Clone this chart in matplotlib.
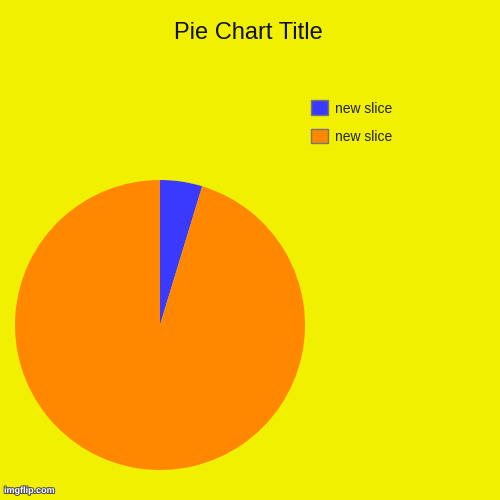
import matplotlib.pyplot as plt
import matplotlib.patches as mpatches
import matplotlib.patheffects as pe

plt.rcParams['font.family'] = ['Liberation Sans', 'DejaVu Sans']

labels = ["new slice", "new slice"]
values = [4.7, 95.3]
colors = ["#3a3aff", "#ff8800"]
bg = "#f0f000"

fig = plt.figure(figsize=(5, 5), dpi=100)
fig.patch.set_facecolor(bg)

# pie centred at (160, 325) px, radius 145 px
ax = fig.add_axes([15 / 500, 30 / 500, 290 / 500, 290 / 500])
ax.set_facecolor(bg)
ax.pie(values, colors=colors, startangle=90, counterclock=False,
       radius=1, wedgeprops={'linewidth': 0})
ax.set_xlim(-1, 1)
ax.set_ylim(-1, 1)
ax.set_aspect('equal')
ax.axis('off')

fig.text(0.497, 1 - 33 / 500, "Pie Chart Title", ha='center', va='center',
         fontsize=17, color='#111111')

handles = [mpatches.Patch(facecolor=c, edgecolor='#777777', linewidth=1)
           for c in colors]
fig.legend(handles, labels, loc='upper left',
           bbox_to_anchor=(298 / 500, 1 - 88 / 500), frameon=False,
           fontsize=10, handlelength=1.25, handleheight=1.25,
           handletextpad=0.5, labelspacing=0.95, labelcolor='#222222')

fig.text(4 / 500, 7 / 500, "imgflip.com", fontsize=6.5, color='white',
         fontweight='bold',
         path_effects=[pe.withStroke(linewidth=1.5, foreground='#555555')])

fig.savefig("out.png", dpi=100, facecolor=bg)
